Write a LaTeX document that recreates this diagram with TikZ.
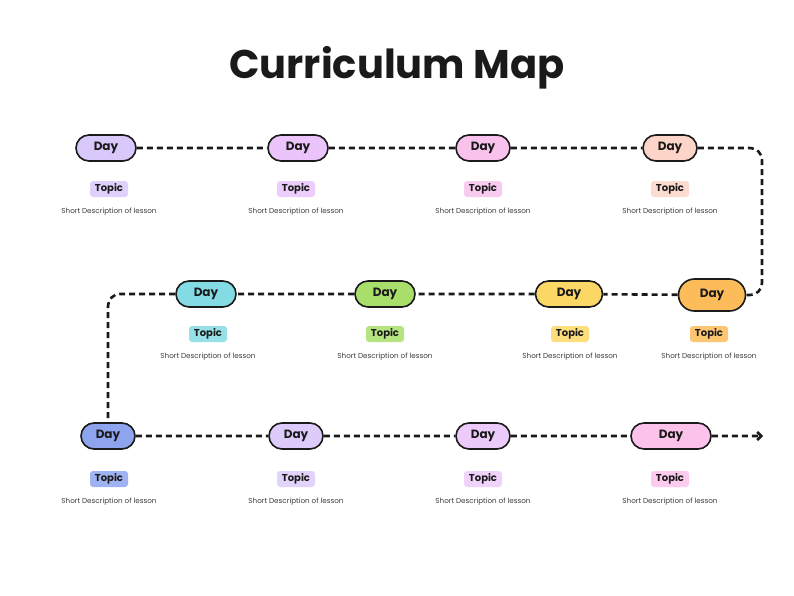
\documentclass[tikz,border=0pt]{standalone}
\usepackage{fontspec}
\setmainfont{Poppins}
\usetikzlibrary{shapes.misc,arrows.meta,positioning}

\definecolor{c1}{HTML}{D9C9FA}
\definecolor{c2}{HTML}{EAC4FA}
\definecolor{c3}{HTML}{F8C2EC}
\definecolor{c4}{HTML}{FCD5C8}
\definecolor{c5}{HTML}{83DCE4}
\definecolor{c6}{HTML}{A8DF6A}
\definecolor{c7}{HTML}{FBD866}
\definecolor{c8}{HTML}{FDBC5A}
\definecolor{c9}{HTML}{8EA4EE}
\definecolor{c10}{HTML}{DCCBFB}
\definecolor{c11}{HTML}{ECCBFA}
\definecolor{c12}{HTML}{FCC2EA}
\definecolor{ink}{HTML}{1A1A1A}

\tikzset{
  daypill/.style={rounded rectangle, draw=ink, line width=1.6pt, inner sep=0pt,
    font=\fontsize{12}{14}\selectfont\bfseries, text=ink},
  topicbox/.style={rounded corners=3pt, inner sep=0pt, minimum width=38pt,
    minimum height=16pt, font=\fontsize{10}{12}\selectfont\bfseries, text=ink},
  desctext/.style={font=\fontsize{7.2}{8}\selectfont, text=ink!85, inner sep=0pt},
  route/.style={ink, line width=2.6pt, dash pattern=on 6pt off 4pt},
}

\begin{document}
\begin{tikzpicture}[x=1pt,y=-1pt]
  \useasboundingbox[fill=white] (0,0) rectangle (794,596);
  \node[font=\fontsize{40}{46}\selectfont\bfseries, text=ink] (title) at (397,68) {Curriculum Map};

  % day pills, topics and descriptions
  \foreach \i/\x/\y/\w/\h/\tx/\ty in {
      1/106/148/60/26/109/189, 2/298/148/60/26/296/189, 3/483/148/54/26/483/189, 4/670/148/54/26/670/189,
      5/206/294/60/26/208/334, 6/385/294/60/26/385/334, 7/569/294/67/26/570/334, 8/712/295/67/32/709/334,
      9/108/436/54/26/109/479, 10/296/436/54/26/296/479, 11/483/436/54/26/483/479, 12/671/436/80/26/670/479} {
    \node[daypill, fill=c\i, minimum width=\w pt, minimum height=\h pt] (day\i) at (\x,\y) {Day};
    \node[topicbox, fill=c\i!85] (topic\i) at (\tx,\ty) {Topic};
    \node[desctext] (desc\i) at (\tx,\ty+23) {Short Description of lesson};
  }

  % the route
  \draw[route] (day1) -- (day2);
  \draw[route] (day2) -- (day3);
  \draw[route] (day3) -- (day4);
  \draw[route, rounded corners=12pt] (day4.east) -- (762,148) -- (762,295) -- (day8.east);
  \draw[route] (day8) -- (day7);
  \draw[route] (day7) -- (day6);
  \draw[route] (day6) -- (day5);
  \draw[route, rounded corners=12pt] (day5.west) -| (day9.north);
  \draw[route] (day9) -- (day10);
  \draw[route] (day10) -- (day11);
  \draw[route] (day11) -- (day12);
  \coordinate (finish) at (763,436);
  \draw[route, -{Straight Barb[length=4pt,width=8pt]}] (day12) -- (finish);
\end{tikzpicture}
\end{document}
